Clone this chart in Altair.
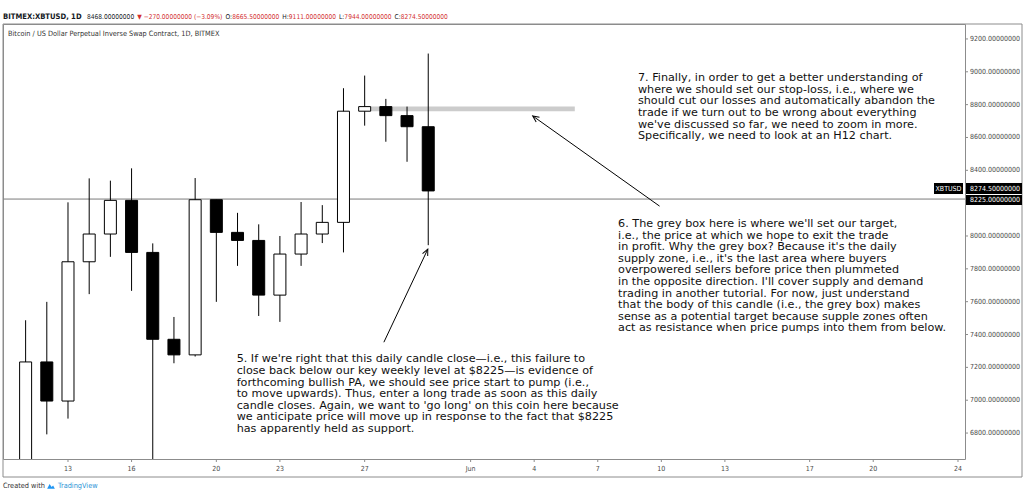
import math
import altair as alt
import pandas as pd

# ---------------- data ----------------
candle_dates = ["2019-05-11", "2019-05-12", "2019-05-13", "2019-05-14", "2019-05-15",
                "2019-05-16", "2019-05-17", "2019-05-18", "2019-05-19", "2019-05-20",
                "2019-05-21", "2019-05-22", "2019-05-23", "2019-05-24", "2019-05-25",
                "2019-05-26", "2019-05-27", "2019-05-28", "2019-05-29", "2019-05-30"]
opens = [6380, 7233, 6995, 7843, 8012, 8217, 7900, 7371, 7276, 8221,
         8022, 7973, 7640, 7890, 8012, 8083, 8760, 8788, 8733, 8665.5]
highs = [7487, 7599, 8205, 8351, 8337, 8412, 7955, 7507, 8353, 8221,
         8141, 8071, 8000, 8207, 8188, 8900, 8977, 8835, 8788, 9111]
lows = [6350, 6792, 6888, 7646, 7873, 7666, 6550, 7225, 7266, 7599,
        7818, 7513, 7477, 7818, 7957, 7900, 8672, 8574, 8452, 7944]
closes = [7233, 6995, 7843, 8012, 8217, 7900, 7371, 7276, 8221, 8022,
          7973, 7640, 7890, 8012, 8083, 8760, 8788, 8733, 8665.5, 8274.5]

tick_dates = ["2019-05-13", "2019-05-16", "2019-05-20", "2019-05-23", "2019-05-27",
              "2019-06-01", "2019-06-04", "2019-06-07", "2019-06-10", "2019-06-13",
              "2019-06-17", "2019-06-20", "2019-06-24"]
tick_labels = ["13", "16", "20", "23", "27", "Jun", "4", "7", "10", "13", "17", "20", "24"]
# 8200 is hidden behind the 8225 price tag in the original
price_ticks = [6800, 7000, 7200, 7400, 7600, 7800, 8000, 8400, 8600, 8800, 9000, 9200]

x_range = ["2019-05-09T22:23:00Z", "2019-06-24T07:56:00Z"]
y_range = [6642, 9291]

support_level = 8225
last_price = 8274.5
symbol = "XBTUSD"

band_dates = ["2019-05-27T00:00:00Z", "2019-06-05T22:00:00Z"]
band_values = [8760, 8788]

arrow_from_dates = ["2019-05-27T21:45:00Z", "2019-06-09T22:00:00Z"]
arrow_from_values = [7353, 8182]
arrow_to_dates = ["2019-05-29T23:30:00Z", "2019-06-03T22:20:00Z"]
arrow_to_values = [7920, 8731]

note_dates = ["2019-05-20T23:00:00Z", "2019-06-07T23:00:00Z", "2019-06-08T21:30:00Z"]
note_values = [7285, 8110, 8998]
note_texts = [
    "5. If we're right that this daily candle close\u2014i.e., this failure to\n"
    "close back below our key weekly level at $8225\u2014is evidence of\n"
    "forthcoming bullish PA, we should see price start to pump (i.e.,\n"
    "to move upwards). Thus, enter a long trade as soon as this daily\n"
    "candle closes. Again, we want to 'go long' on this coin here because\n"
    "we anticipate price will move up in response to the fact that $8225\n"
    "has apparently held as support.",
    "6. The grey box here is where we'll set our target,\n"
    "i.e., the price at which we hope to exit the trade\n"
    "in profit. Why the grey box? Because it's the daily\n"
    "supply zone, i.e., it's the last area where buyers\n"
    "overpowered sellers before price then plummeted\n"
    "in the opposite direction. I'll cover supply and demand\n"
    "trading in another tutorial. For now, just understand\n"
    "that the body of this candle (i.e., the grey box) makes\n"
    "sense as a potential target because supple zones often\n"
    "act as resistance when price pumps into them from below.",
    "7. Finally, in order to get a better understanding of\n"
    "where we should set our stop-loss, i.e., where we\n"
    "should cut our losses and automatically abandon the\n"
    "trade if we turn out to be wrong about everything\n"
    "we've discussed so far, we need to zoom in more.\n"
    "Specifically, we need to look at an H12 chart.",
]

header_title = "BITMEX:XBTUSD, 1D"
header_parts = ["8468.00000000", "\u25bc \u2212270.00000000 (\u22123.09%)",
                "O:", "8665.50000000", "H:", "9111.00000000",
                "L:", "7944.00000000", "C:", "8274.50000000"]
header_colors = ["#131722", "#d32f2f", "#131722", "#d32f2f", "#131722",
                 "#d32f2f", "#131722", "#d32f2f", "#131722", "#d32f2f"]
header_gap_after = [1, 1, 0, 1, 0, 1, 0, 1, 0, 0]   # spaces following each part
legend_text = "Bitcoin / US Dollar Perpetual Inverse Swap Contract, 1D, BITMEX"

# ---------------- layout / style ----------------
W, H = 962, 435
SMALL = "DejaVu Sans Condensed, Liberation Sans Narrow, Liberation Sans, sans-serif"
NOTE_FONT = "DejaVu Sans"
FRAME = "#8c8c8c"
AXIS_TEXT = "#4a4a4a"
HEAD_SIZE = 6.6
TITLE_SIZE = 7.6

# approximate advance widths (em) of DejaVu Sans Condensed, used to chain header pieces
EM = {".": 0.286, " ": 0.286, ":": 0.303, "(": 0.351, ")": 0.351, "%": 0.855,
      "\u2212": 0.754, "O": 0.709, "H": 0.676, "L": 0.502, "C": 0.629, "\u25bc": 0.70}


def text_width(s, size):
    return sum(EM.get(ch, 0.572) for ch in s) * size


def ms(s):
    t = pd.Timestamp(s)
    if t.tzinfo is None:
        t = t.tz_localize("UTC")
    return int(t.value // 10**6)


x_dom = [ms(x_range[0]), ms(x_range[1])]
xscale = alt.Scale(type="utc", domain=x_dom, padding=0)
yscale = alt.Scale(domain=y_range, zero=False, nice=False, padding=0)
px_per_ms = W / (x_dom[1] - x_dom[0])
px_per_val = H / (y_range[1] - y_range[0])

candles = pd.DataFrame({
    "date": candle_dates, "open": opens, "high": highs, "low": lows, "close": closes,
})
candles["dir"] = ["up" if c >= o else "down" for o, c in zip(opens, closes)]

X = lambda f: alt.X(f, scale=xscale, axis=None)
Y = lambda f: alt.Y(f, scale=yscale, axis=None)

level = alt.Chart(pd.DataFrame({"v": [support_level]})).mark_rule(
    color="#7a7a7a", strokeWidth=1).encode(y=Y("v:Q"))

band = alt.Chart(pd.DataFrame({"d0": [band_dates[0]], "d1": [band_dates[1]],
                               "v0": [band_values[0]], "v1": [band_values[1]]})).mark_rect(
    color="#cccccc").encode(x=X("d0:T"), x2="d1:T", y=Y("v0:Q"), y2="v1:Q")

wicks = alt.Chart(candles).mark_rule(color="#000000", strokeWidth=1, clip=True).encode(
    x=X("date:T"), y=Y("low:Q"), y2="high:Q")

bodies = alt.Chart(candles).mark_bar(size=12, stroke="#000000", strokeWidth=1, clip=True).encode(
    x=X("date:T"), y=Y("open:Q"), y2="close:Q",
    fill=alt.Fill("dir:N", scale=alt.Scale(domain=["up", "down"], range=["#ffffff", "#000000"]),
                  legend=None))

arrows_df = pd.DataFrame({"d0": arrow_from_dates, "v0": arrow_from_values,
                          "d1": arrow_to_dates, "v1": arrow_to_values})
angles = []
for d0, v0, d1, v1 in zip(arrow_from_dates, arrow_from_values, arrow_to_dates, arrow_to_values):
    dx = (ms(d1) - ms(d0)) * px_per_ms
    dy = -(v1 - v0) * px_per_val
    angles.append(math.degrees(math.atan2(dx, -dy)) % 360)
arrows_df["ang"] = angles

arrow_lines = alt.Chart(arrows_df).mark_rule(color="#000000", strokeWidth=1).encode(
    x=X("d0:T"), x2="d1:T", y=Y("v0:Q"), y2="v1:Q")

arrow_heads = alt.Chart(arrows_df).mark_point(
    shape="M-0.5,1.1L0,0L0.5,1.1", filled=False, stroke="#000000", strokeWidth=1,
    size=130, opacity=1).encode(
    x=X("d1:T"), y=Y("v1:Q"),
    angle=alt.Angle("ang:Q", scale=alt.Scale(domain=[0, 360], range=[0, 360])))

notes = alt.Chart(pd.DataFrame({"d": note_dates, "v": note_values, "t": note_texts})).mark_text(
    align="left", baseline="top", font=NOTE_FONT, fontSize=11.2, lineHeight=11.6,
    lineBreak="\n", color="#111111").encode(x=X("d:T"), y=Y("v:Q"), text="t:N")

# ---- axes drawn through the scales ----
xt = pd.DataFrame({"d": tick_dates, "lab": tick_labels})
x_ticks = alt.Chart(xt).mark_rule(color=FRAME, strokeWidth=1).encode(
    x=X("d:T"), y=alt.value(H), y2=alt.value(H + 3))
x_labels = alt.Chart(xt).mark_text(
    align="center", baseline="middle", font=SMALL, fontSize=7, color=AXIS_TEXT).encode(
    x=X("d:T"), y=alt.value(H + 10), text="lab:N")

yt = pd.DataFrame({"p": price_ticks, "lab": [f"{p:.8f}" for p in price_ticks]})
y_ticks = alt.Chart(yt).mark_rule(color=FRAME, strokeWidth=1).encode(
    y=Y("p:Q"), x=alt.value(W), x2=alt.value(W + 3))
y_labels = alt.Chart(yt).mark_text(
    align="left", baseline="middle", font=SMALL, fontSize=7, color=AXIS_TEXT).encode(
    y=Y("p:Q"), x=alt.value(W + 5), text="lab:N")


def pixel_text(txt, x, y, size, color, weight="normal", align="left", font=SMALL):
    return alt.Chart(pd.DataFrame({"t": [txt]})).mark_text(
        align=align, baseline="middle", font=font, fontSize=size, fontWeight=weight,
        color=color).encode(x=alt.value(x), y=alt.value(y), text="t:N")


def pixel_rect(x0, x1, y0, y1, **kw):
    return alt.Chart(pd.DataFrame({"k": [0]})).mark_rect(**kw).encode(
        x=alt.value(x0), x2=alt.value(x1), y=alt.value(y0), y2=alt.value(y1))


decor = []
# header line above the chart
decor.append(pixel_text(header_title, 0, -7, TITLE_SIZE, "#131722", weight="bold"))
cx = 84.0
for txt, col, gap in zip(header_parts, header_colors, header_gap_after):
    decor.append(pixel_text(txt, cx, -7, HEAD_SIZE, col))
    cx += text_width(txt, HEAD_SIZE) + gap * text_width(" ", HEAD_SIZE) * 1.6
decor.append(pixel_text(legend_text, 5, 10, 7.3, "#333333"))
# outer frame around plot + axes
decor.append(pixel_rect(0, 1019, 0, 453, fillOpacity=0, stroke=FRAME, strokeWidth=1))
# price labels on the right axis
decor.append(pixel_rect(931, 960, 159, 170, color="#000000"))
decor.append(pixel_rect(963, 1019, 159, 170, color="#000000"))
decor.append(pixel_rect(963, 1019, 171, 181, color="#000000"))
decor.append(pixel_text(symbol, 945.5, 164.5, 7, "#ffffff", align="center"))
decor.append(pixel_text(f"{last_price:.8f}", 967, 164.5, 7, "#ffffff"))
decor.append(pixel_text(f"{support_level:.8f}", 967, 176, 7, "#ffffff"))
# "Created with TradingView"
decor.append(pixel_text("Created with", 0, 462, 7.3, "#333333"))
decor.append(alt.Chart(pd.DataFrame({"k": [0]})).mark_point(
    shape="M-1,0.7L-0.35,-0.5L0.15,0.25L0.55,-0.15L1,0.7Z", filled=True, color="#2196f3",
    size=60, opacity=1).encode(x=alt.value(48), y=alt.value(462)))
decor.append(pixel_text("TradingView", 55, 462, 7.3, "#2a94d6"))

chart = alt.layer(
    level, band, wicks, bodies, arrow_lines, arrow_heads, notes,
    x_ticks, x_labels, y_ticks, y_labels, *decor,
).properties(
    width=W, height=H,
    padding={"left": 3, "top": 24, "right": 59, "bottom": 37},
    autosize=alt.AutoSizeParams(type="none"),
    background="#ffffff",
).configure_view(stroke=FRAME, strokeWidth=1)

chart.save("out.html", embed_options={"renderer": "svg", "actions": False})
